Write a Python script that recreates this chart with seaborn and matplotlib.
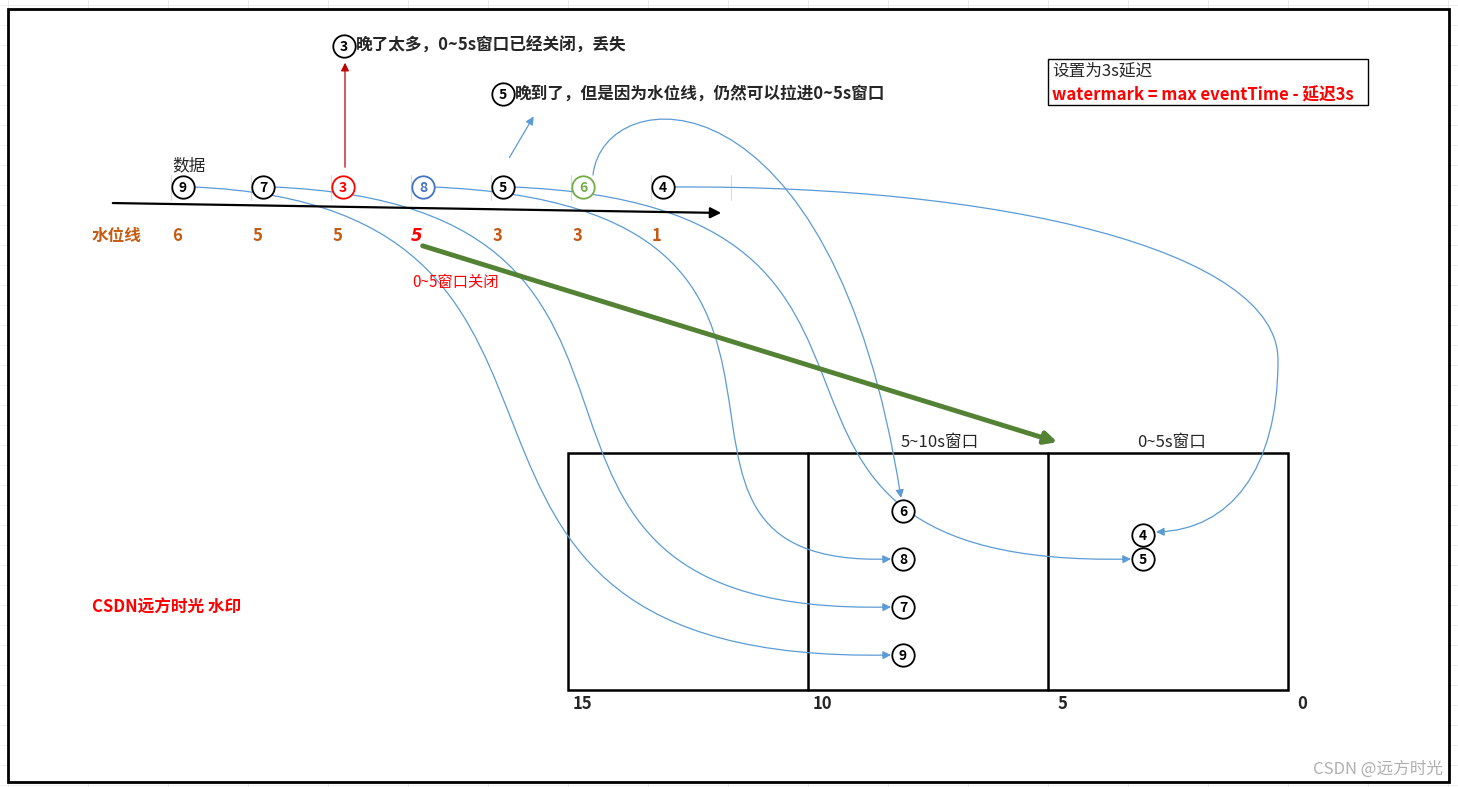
import matplotlib
matplotlib.use("Agg")
import matplotlib.pyplot as plt
import seaborn as sns
from matplotlib.path import Path
from matplotlib.patches import PathPatch, FancyArrowPatch, Rectangle

sns.set_theme(style="white")
plt.rcParams['font.family'] = ['Noto Sans CJK SC', 'DejaVu Sans']

# data
events = [9, 7, 3, 8, 5, 6, 4]
event_colors = ['black', 'black', 'red', '#4472c4', 'black', '#70ad47', 'black']
watermarks = [6, 5, 5, 5, 3, 3, 1]
window_edges = [15, 10, 5, 0]
window_labels = ['', '5~10s窗口', '0~5s窗口']
# window contents: event -> (window index, slot)
placed = {6: (1, 0), 8: (1, 1), 7: (1, 2), 9: (1, 3), 4: (2, 0.5), 5: (2, 1)}

fig = plt.figure(figsize=(14.58, 7.87), dpi=100)
ax = fig.add_axes([0, 0, 1, 1])
ax.set_xlim(0, 1458)
ax.set_ylim(787, 0)
ax.axis('off')

# faint sheet grid
for gx in range(0, 1458, 80):
    ax.axvline(gx + 8, color='#e6e6e6', lw=0.6, zorder=0)
for gy in range(0, 787, 20):
    ax.axhline(gy + 5, color='#ececec', lw=0.6, zorder=0)
ax.add_patch(Rectangle((8, 9), 1441, 773, facecolor='white', edgecolor='black', lw=2, zorder=0.5))

def ex(i):
    return 183 + 80 * i
EY, WY = 187, 236

# window box scale
def tx(t):
    return 568 + (15 - t) * 48
BY0, BY1 = 453, 690
ax.add_patch(Rectangle((tx(15), BY0), tx(0) - tx(15), BY1 - BY0, fill=False, ec='black', lw=1.8, zorder=2))
for t in window_edges[1:-1]:
    ax.plot([tx(t), tx(t)], [BY0, BY1], color='black', lw=1.8, zorder=2)
for t in window_edges:
    ax.text(tx(t) + 14, 704, str(t), ha='center', va='center', fontsize=12, fontweight='bold')
for k, lab in enumerate(window_labels):
    if lab:
        mid = (tx(window_edges[k]) + tx(window_edges[k + 1])) / 2
        ax.text(mid + 12 if k == 1 else mid + 4, 442, lab, ha='center', va='center', fontsize=12)

def slot_pos(e):
    w, s = placed[e]
    mid = (tx(window_edges[w]) + tx(window_edges[w + 1])) / 2 - 25
    return mid, 511 + 48 * s

def circ(x, y, n, c='black'):
    ax.scatter([x], [y], s=260, facecolors='white', edgecolors=c, linewidths=1.3, zorder=5)
    ax.text(x, y + 1, str(n), ha='center', va='center', color=c, fontsize=10, fontweight='bold', zorder=6)

# curves
blue = '#5b9bd5'
def bez(verts):
    codes = [Path.MOVETO] + [Path.CURVE4] * (len(verts) - 1)
    p = FancyArrowPatch(path=Path(verts, codes), arrowstyle='-|>', mutation_scale=12,
                        color=blue, lw=0.9, zorder=3)
    ax.add_patch(p)

for i, e in enumerate(events):
    sx = ex(i) + 10
    if e == 3:
        continue
    if e in (9, 7, 8, 5):
        x1, y1 = slot_pos(e)
        bez([(sx, EY), (sx + 480, EY + 20), (sx + 150, y1 + 10), (x1 - 12, y1)])
    elif e == 6:
        x1, y1 = slot_pos(e)
        bez([(sx, EY - 12), (sx + 10, 80), (x1 - 70, 60), (x1 - 2, y1 - 13)])
    elif e == 4:
        x1, y1 = slot_pos(e)
        verts = [(sx, EY), (1000, 185), (1278, 250), (1278, 360),
                 (1278, 470), (1230, y1 - 5), (x1 + 13, y1 - 3)]
        bez(verts)

for i, (e, c) in enumerate(zip(events, event_colors)):
    ax.plot([ex(i) - 12] * 2, [175, 200], color='#d9d9d9', lw=0.8, zorder=1)
    circ(ex(i), EY, e, c)
    wc = 'red' if i == 3 else '#c55a11'
    ax.text(ex(i) - 6, WY, str(watermarks[i]), ha='center', va='center', color=wc, fontsize=12,
            fontweight='bold', style='italic' if i == 3 else 'normal',
            family='DejaVu Sans' if i == 3 else None)
ax.plot([ex(7) - 12] * 2, [175, 200], color='#d9d9d9', lw=0.8, zorder=1)
for e in placed:
    x, y = slot_pos(e)
    circ(x, y, e)

ax.text(172, 166, '数据', fontsize=12, va='center')
ax.text(92, WY, '水位线', color='#c55a11', fontsize=12, fontweight='bold', va='center')
ax.text(412, 282, '0~5窗口关闭', color='red', fontsize=11, va='center')

ax.add_patch(FancyArrowPatch((110, 203), (724, 213), arrowstyle='-|>', mutation_scale=16, color='black', lw=1.6, zorder=4))
ax.add_patch(FancyArrowPatch((420, 245), (1060, 443), arrowstyle='-|>', mutation_scale=18, color='#548235', lw=3.5, zorder=4))
ax.add_patch(FancyArrowPatch((345, 170), (345, 60), arrowstyle='-|>', mutation_scale=12, color='#c00000', lw=0.9, zorder=4))
ax.add_patch(FancyArrowPatch((508, 160), (535, 114), arrowstyle='-|>', mutation_scale=12, color=blue, lw=0.9, zorder=4))

circ(344, 46, 3)
ax.text(356, 46, '晚了太多，0~5s窗口已经关闭，丢失', fontsize=12, fontweight='bold', va='center')
circ(503, 94, 5)
ax.text(515, 94, '晚到了，但是因为水位线，仍然可以拉进0~5s窗口', fontsize=12, fontweight='bold', va='center')

ax.add_patch(Rectangle((1048, 59), 320, 46, fill=False, ec='black', lw=1, zorder=2))
ax.text(1052, 71, '设置为3s延迟', fontsize=12, va='center')
ax.text(1052, 95, 'watermark = max eventTime - 延迟3s', color='red', fontsize=12, fontweight='bold', va='center')

ax.text(92, 608, 'CSDN远方时光 水印', color='red', fontsize=12, fontweight='bold', va='center')
ax.text(1443, 769, 'CSDN @远方时光', color='#b0b0b0', fontsize=12, ha='right', va='center')

fig.savefig('out.png', dpi=100)
